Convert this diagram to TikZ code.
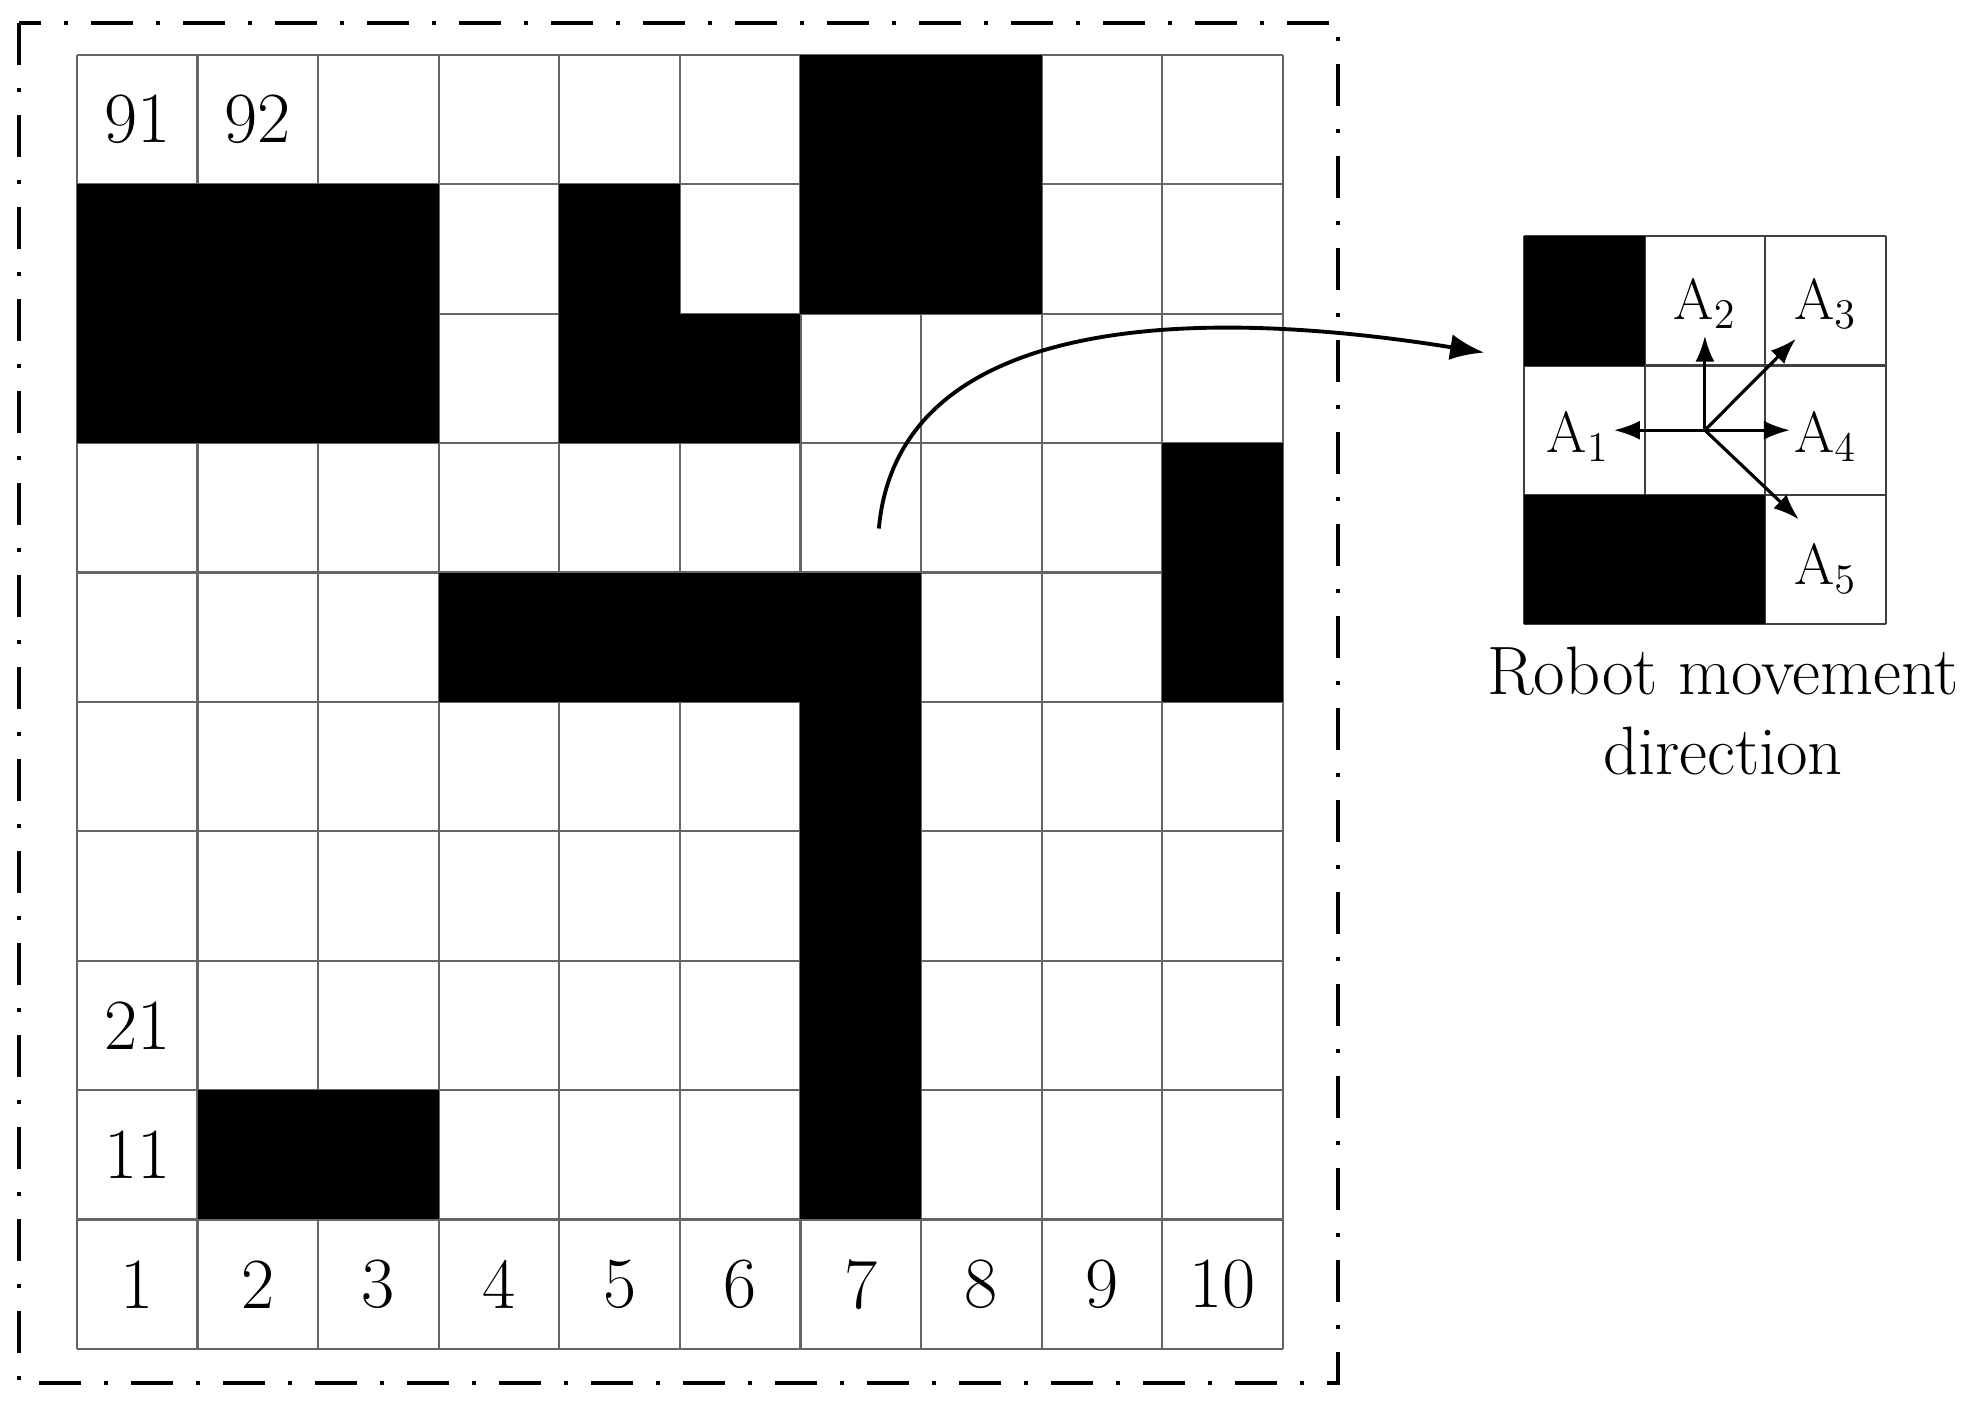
\documentclass[tikz,border=0pt]{standalone}
\usepackage{amsmath}
\usepackage{amsfonts}
\usetikzlibrary{arrows.meta}

\begin{document}
\begin{tikzpicture}[x=1.206cm,y=1.294cm,
		cell/.style={draw=black!60,line width=0.6pt},
		num/.style={font=\fontsize{20.5}{24}\selectfont},
		lab/.style={font=\fontsize{16.5}{19}\selectfont,inner sep=1pt},
		mv/.style={line width=0.9pt,-{Latex[length=2.6mm,width=1.9mm]}}]
		\useasboundingbox (-0.638,-0.456) rectangle (15.74,10.425);
		\draw[line width=1.1pt,dash pattern=on 4.2mm off 2.3mm on 0.4mm off 2.3mm] (-0.481,10.247) rectangle (10.456,-0.263);
		\foreach \i in {0,...,10} {
			\draw[cell] (\i,0) -- (\i,10);
			\draw[cell] (0,\i) -- (10,\i);
		}
		\foreach \c/\r in {7/10,8/10,1/9,2/9,3/9,5/9,7/9,8/9,1/8,2/8,3/8,5/8,6/8,10/7,4/6,5/6,6/6,7/6,10/6,7/5,7/4,7/3,2/2,3/2,7/2}
			\fill (\c-1,\r-1) rectangle (\c,\r);
		\foreach \c in {1,...,10}
			\node[num] (n\c) at (\c-0.5,0.5) {\c};
		\node[num] (n11) at (0.5,1.5) {11};
		\node[num] (n21) at (0.5,2.5) {21};
		\node[num] (n91) at (0.5,9.5) {91};
		\node[num] (n92) at (1.5,9.5) {92};
		\foreach \i in {0,...,3} {
			\draw[cell,draw=black!75] (12+\i,5.6) -- (12+\i,8.6);
			\draw[cell,draw=black!75] (12,5.6+\i) -- (15,5.6+\i);
		}
		\fill (12,7.6) rectangle (13,8.6);
		\fill (12,5.6) rectangle (14,6.6);
		\coordinate (o) at (13.5,7.1);
		\node[lab] (a1) at (12.45,7.05) {A$_1$};
		\node[lab] (a2) at (13.5,8.08) {A$_2$};
		\node[lab] (a3) at (14.5,8.08) {A$_3$};
		\node[lab] (a4) at (14.5,7.05) {A$_4$};
		\node[lab] (a5) at (14.5,6.03) {A$_5$};
		\coordinate (t5) at (14.28,6.41);
		\draw[mv] (o) -- (a1.east |- o);
		\draw[mv] (o) -- ([yshift=-0.3mm]a2.south);
		\draw[mv] (o) -- ([shift={(0.6mm,-0.6mm)}]a3.south west);
		\draw[mv] (o) -- (a4.west |- o);
		\draw[mv] (o) -- (t5);
		\node[font=\fontsize{19.5}{23}\selectfont,align=center] (cap) at (13.65,4.93) {Robot movement\\direction};
		\coordinate (from) at (6.65,6.34);
		\coordinate (to) at (11.67,7.70);
		\draw[line width=1.1pt,-{Latex[length=3.4mm,width=2.6mm]}] (from) .. controls (6.8,7.9) and (9.0,8.1) .. (to);
	\end{tikzpicture}
\end{document}
